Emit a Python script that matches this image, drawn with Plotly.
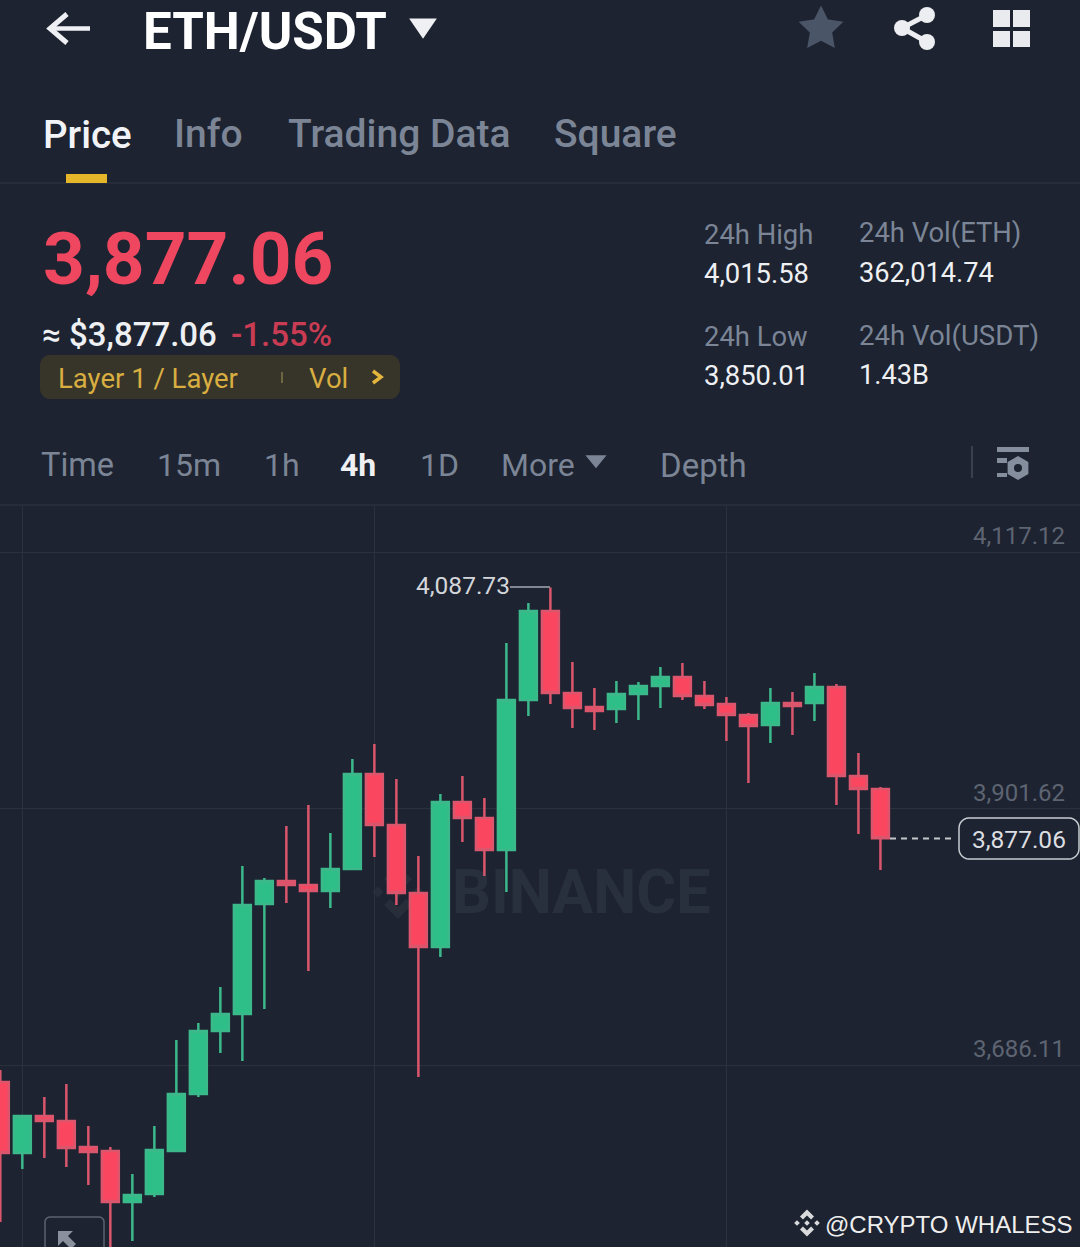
import math
import plotly.graph_objects as go

W, H = 1080, 1247
BG = "#1d2330"
GREY = "#7b8596"
WHITE = "#eef0f3"
FONT = "Roboto"

# candles
opens = [3672.2, 3612.6, 3643.7, 3639.5, 3617.6, 3614.3, 3571.4, 3578.1, 3614.3, 3662.1,
         3715.1, 3729.4, 3821.8, 3841.1, 3837.7, 3832.7, 3851.2, 3931.0, 3888.1, 3831.0,
         3785.6, 3907.5, 3894.0, 3867.1, 3993.2, 4067.9, 3999.0, 3987.3, 3985.6, 3998.2,
         4004.9, 4012.5, 3996.5, 3989.8, 3980.6, 3972.2, 3990.6, 3990.6, 4004.1, 3929.3,
         3918.4]
highs = [3682.3, 3644.5, 3659.6, 3670.5, 3635.2, 3617.6, 3595.0, 3635.2, 3707.5, 3721.8,
         3752.0, 3853.7, 3843.6, 3887.3, 3904.9, 3881.4, 3943.6, 3956.2, 3926.8, 3862.1,
         3914.2, 3929.3, 3910.8, 4041.1, 4074.7, 4087.73, 4025.1, 4003.2, 4009.1, 4008.3,
         4020.9, 4024.2, 4009.1, 3995.7, 3982.2, 4003.2, 3999.9, 4015.8, 4006.6, 3948.6,
         3920.1]
lows = [3554.6, 3599.2, 3608.4, 3600.8, 3585.7, 3521.0, 3538.6, 3575.6, 3614.3, 3659.6,
        3696.6, 3689.9, 3733.5, 3822.6, 3765.5, 3818.4, 3851.2, 3861.3, 3820.9, 3676.4,
        3777.2, 3873.9, 3845.3, 3831.8, 3979.7, 3989.8, 3969.6, 3968.0, 3973.8, 3976.3,
        3986.4, 3993.2, 3985.6, 3958.7, 3923.4, 3957.0, 3963.8, 3975.5, 3904.9, 3880.6,
        3850.3]
closes = [3612.6, 3643.7, 3639.5, 3616.8, 3613.4, 3571.4, 3577.3, 3615.1, 3662.1, 3715.1,
          3729.4, 3820.9, 3841.1, 3837.7, 3832.7, 3851.2, 3931.0, 3888.1, 3831.0, 3785.6,
          3907.5, 3894.0, 3867.1, 3993.2, 4067.9, 3999.0, 3986.4, 3983.9, 3998.2, 4004.9,
          4012.5, 3996.5, 3989.0, 3980.6, 3971.3, 3990.6, 3988.1, 4004.1, 3929.3, 3918.4,
          3877.06]
candle_index = list(range(len(opens)))

price_ticks = [4117.12, 3901.62, 3686.11]
price_labels = ["4,117.12", "3,901.62", "3,686.11"]
time_ticks = [1, 17, 33]
last_price = 3877.06
top_price = 4087.73


def px(x):
    return x / W


def py(y):
    return 1 - y / H


def poly(points, fill=None, line=None, width=0, close=True, layer="above"):
    path = "M " + " L ".join(f"{px(x):.5f} {py(y):.5f}" for x, y in points)
    if close:
        path += " Z"
    s = dict(type="path", xref="paper", yref="paper", path=path, layer=layer,
             line=dict(color=line or "rgba(0,0,0,0)", width=width))
    if fill:
        s["fillcolor"] = fill
    return s


def rect(x0, y0, x1, y1, fill):
    return dict(type="rect", xref="paper", yref="paper", x0=px(x0), x1=px(x1),
                y0=py(y0), y1=py(y1), fillcolor=fill, line=dict(width=0))


def hline(x0, x1, y, color, width=1.5, dash="solid"):
    return dict(type="line", xref="paper", yref="paper", x0=px(x0), x1=px(x1),
                y0=py(y), y1=py(y), line=dict(color=color, width=width, dash=dash))


def vline(x, y0, y1, color, width=1.5):
    return dict(type="line", xref="paper", yref="paper", x0=px(x), x1=px(x),
                y0=py(y0), y1=py(y1), line=dict(color=color, width=width))


def circle(cx, cy, r, fill):
    return dict(type="circle", xref="paper", yref="paper", x0=px(cx - r), x1=px(cx + r),
                y0=py(cy - r), y1=py(cy + r), fillcolor=fill, line=dict(width=0))


def round_box(x0, y0, x1, y1, r, fill=None, line=None, width=0):
    pts = []
    corners = [(x1 - r, y0 + r, -90), (x1 - r, y1 - r, 0), (x0 + r, y1 - r, 90), (x0 + r, y0 + r, 180)]
    for cx, cy, a in corners:
        for k in range(7):
            t = math.radians(a + k * 15)
            pts.append((cx + r * math.cos(t), cy + r * math.sin(t)))
    return poly(pts, fill=fill, line=line, width=width)


def logo(cx, cy, r, color, layer="above"):
    d = 0.21 * r
    out = []
    for ox, oy in [(0, 0), (-0.74 * r, 0), (0.74 * r, 0)]:
        out.append(poly([(cx + ox, cy + oy - d), (cx + ox + d, cy + oy),
                         (cx + ox, cy + oy + d), (cx + ox - d, cy + oy)], fill=color, layer=layer))
    for sg in (-1, 1):
        out.append(poly([(cx, cy + sg * r), (cx + 0.52 * r, cy + sg * 0.48 * r),
                         (cx + 0.3 * r, cy + sg * 0.26 * r), (cx, cy + sg * 0.56 * r),
                         (cx - 0.3 * r, cy + sg * 0.26 * r), (cx - 0.52 * r, cy + sg * 0.48 * r)],
                        fill=color, layer=layer))
    return out


def label(x, y, text, size, color, weight=400, anchor="left", family=FONT):
    return dict(xref="paper", yref="paper", x=px(x), y=py(y), text=text, showarrow=False,
                xanchor=anchor, yanchor="middle", borderpad=0, borderwidth=0,
                font=dict(family=family, size=size, color=color, weight=weight))


fig = go.Figure(go.Candlestick(
    x=candle_index, open=opens, high=highs, low=lows, close=closes,
    increasing=dict(fillcolor="#2dbf87", line=dict(color="#3cb98b", width=2.5)),
    decreasing=dict(fillcolor="#fb4660", line=dict(color="#d9566d", width=2.5)),
    whiskerwidth=0, hoverinfo="skip", showlegend=False,
))

shapes = [
    hline(0, W, 183, "#2a303c"),
    hline(0, W, 505, "#2a303c"),
    rect(66, 174, 107, 183, "#e5b52a"),
    round_box(40, 355, 400, 399, 10, fill="#37342a"),
    vline(282, 372, 383, "#6e6640", 2),
    poly([(373, 371), (381, 377), (373, 383)], line="#e3b53c", width=3.5, close=False),
    poly([(67, 14), (50, 28.5), (67, 43)], line=WHITE, width=5, close=False),
    hline(50, 90, 28.5, WHITE, 4.5),
    poly([(412, 20), (434, 20), (423, 36)], fill=WHITE, line=WHITE, width=3),
    poly([(821 + (19 if k % 2 == 0 else 9.5) * math.sin(k * math.pi / 5),
           29 - (19 if k % 2 == 0 else 9.5) * math.cos(k * math.pi / 5)) for k in range(10)],
         fill="#4a5568", line="#4a5568", width=4),
    poly([(927, 15), (902, 28), (927, 42)], line="#eceef1", width=5, close=False),
    circle(927, 15, 8, "#eceef1"),
    circle(902, 28, 8, "#eceef1"),
    circle(927, 42, 8, "#eceef1"),
    rect(993, 10, 1010, 27, "#e9ebef"),
    rect(1013, 10, 1030, 27, "#e9ebef"),
    rect(993, 31, 1010, 47, "#e9ebef"),
    rect(1013, 31, 1030, 47, "#e9ebef"),
    poly([(587, 456), (605, 456), (596, 467)], fill=GREY, line=GREY, width=1.5),
    vline(972, 446, 478, "#3a414e", 2),
    rect(997, 447, 1029, 452, "#848e9c"),
    rect(997, 458, 1007, 463, "#848e9c"),
    rect(997, 473, 1007, 477, "#848e9c"),
    poly([(1018 + 12 * math.cos(math.radians(a)), 468 + 12 * math.sin(math.radians(a)))
          for a in (30, 90, 150, 210, 270, 330)], fill="#848e9c"),
    circle(1018, 468, 4, BG),
    # chart furniture
    hline(510, 550, 587, "#a5a9b0", 1.5),
    hline(890, 955, 838.5, "#c4c7cc", 2, dash="6px,5px"),
    round_box(959, 818, 1079, 859, 10, fill=BG, line="#c9ccd2", width=1.5),
    round_box(45, 1217, 104, 1262, 5, line="#5b6270", width=1.5),
    poly([(58, 1231), (73, 1231), (68, 1236), (76, 1244), (71, 1249), (63, 1241), (58, 1246)],
         fill="#8a909c"),
]
shapes += logo(398, 892, 27, "#272d39", layer="below")
shapes += logo(807, 1223, 13.5, "#d9dadc")

texts = [
    label(143, 31, "ETH/USDT", 51, "#ffffff", weight=700),
    label(43, 134, "Price", 38.5, "#f1f3f6", weight=500),
    label(174, 134, "Info", 39, GREY, weight=500),
    label(288, 134, "Trading Data", 39, GREY, weight=500),
    label(554, 134, "Square", 39, GREY, weight=500),
    label(43, 259, "3,877.06", 73, "#ef4760", weight=700),
    label(42, 334, "≈ $3,877.06", 33, WHITE, weight=500),
    label(231, 334, "-1.55%", 33, "#c93c53", weight=500),
    label(58, 378, "Layer 1 / Layer", 27.5, "#d8ae41"),
    label(309, 378, "Vol", 27.5, "#d8ae41"),
    label(41, 465, "Time", 32.5, GREY),
    label(157, 465, "15m", 32, GREY),
    label(264, 465, "1h", 32, GREY),
    label(340, 465, "4h", 32, WHITE, weight=700),
    label(420, 465, "1D", 32, GREY),
    label(501, 465, "More", 32, GREY),
    label(660, 465, "Depth", 33, GREY),
    label(704, 235, "24h High", 27.4, GREY),
    label(704, 274, "4,015.58", 27.4, WHITE),
    label(859, 233, "24h Vol(ETH)", 27.4, GREY),
    label(859, 273, "362,014.74", 27.2, WHITE),
    label(704, 337, "24h Low", 27.4, GREY),
    label(704, 376, "3,850.01", 27.4, WHITE),
    label(859, 335, "24h Vol(USDT)", 27.6, GREY),
    label(859, 375, "1.43B", 27.2, WHITE),
    label(452, 892, "BINANCE", 61, "rgba(120,128,145,0.14)", weight=700),
    label(416, 585, f"{top_price:,.2f}", 24.5, "#d3d6da"),
    label(1019, 839, f"{last_price:,.2f}", 24.5, "#dcdee1", anchor="center"),
    label(825, 1224, "@CRYPTO WHALESS", 24, "#eeeeee", family="Liberation Sans"),
]
for val, name in zip(price_ticks, price_labels):
    texts.append(dict(xref="paper", yref="y", x=px(1066), y=val, yshift=16, text=name,
                      showarrow=False, xanchor="right", yanchor="middle", borderpad=0,
                      font=dict(family=FONT, size=24, color="#5d6472")))

fig.update_layout(
    width=W, height=H,
    margin=dict(l=0, r=0, t=0, b=0),
    paper_bgcolor=BG, plot_bgcolor=BG,
    boxgap=0.23, boxgroupgap=0,
    dragmode=False,
    shapes=shapes,
    annotations=texts,
)
fig.update_xaxes(range=[-0.015, 49.07], rangeslider_visible=False, tickvals=time_ticks,
                 showticklabels=False, showgrid=True, gridcolor="#2b313d", gridwidth=1,
                 zeroline=False, fixedrange=True, showline=False, ticks="")
fig.update_yaxes(domain=[0, (H - 505) / H], range=[3533.6, 4157.0], tickvals=price_ticks,
                 showticklabels=False, showgrid=True, gridcolor="#2b313d", gridwidth=1,
                 zeroline=False, fixedrange=True, showline=False, ticks="")

fig.write_html("out.html", config=dict(displayModeBar=False),
               post_script="document.body.style.margin='0';document.documentElement.style.overflow='hidden';")
